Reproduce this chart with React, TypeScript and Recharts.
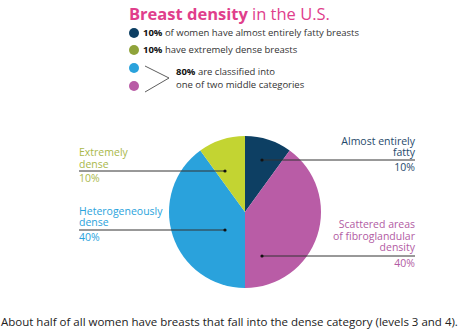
import { PieChart, Pie, Cell } from 'recharts';

const categories = ['Almost entirely fatty', 'Scattered areas of fibroglandular density', 'Heterogeneously dense', 'Extremely dense'];
const shares = [10, 40, 40, 10];
const labelLines = [['Almost entirely', 'fatty'], ['Scattered areas', 'of fibroglandular', 'density'], ['Heterogeneously', 'dense'], ['Extremely', 'dense']];
const legendBold = ['10%', '10%', '80%'];
const legendText = ['of women have almost entirely fatty breasts', 'have extremely dense breasts', 'are classified into'];

const sliceColors = ['#0d3f63', '#b95ca6', '#2aa2dc', '#c3d432'];
const textColors = ['#1f4a6b', '#b25ba3', '#2aa3dc', '#a9b84a'];
const FONT = '"Open Sans", Lato, sans-serif';

const data = categories.map((name, i) => ({ name, value: shares[i] }));

// label anchor geometry, px from pie centre
const anchors = [
  { dot: [17, -52], edge: 170, side: 'right', rows: [-70, -59], pct: -44 },
  { dot: [17, 44], edge: 170, side: 'right', rows: [13, 25, 36], pct: 52 },
  { dot: [-20, 18], edge: -166, side: 'left', rows: [0, 11], pct: 26 },
  { dot: [-20, -41], edge: -166, side: 'left', rows: [-59, -47], pct: -33 },
];

function SliceLabel(props: any) {
  const { cx, cy, index } = props;
  const a = anchors[index];
  const dx = cx + a.dot[0];
  const dy = cy + a.dot[1];
  const ex = cx + a.edge;
  const anchor = a.side === 'right' ? 'end' : 'start';
  return (
    <g>
      <line x1={dx} y1={dy} x2={ex} y2={dy} stroke="#333" strokeWidth={1} />
      <circle cx={dx} cy={dy} r={1.6} fill="#111" />
      {labelLines[index].map((t, j) => (
        <text key={j} x={ex} y={cy + a.rows[j]} textAnchor={anchor} dominantBaseline="middle"
          fontSize={10.5} fontFamily={FONT} fill={textColors[index]}>{t}</text>
      ))}
      <text x={ex} y={cy + a.pct} textAnchor={anchor} dominantBaseline="middle"
        fontSize={10.5} fontFamily={FONT} fill={textColors[index]}>{shares[index]}%</text>
    </g>
  );
}

const legendDots = ['#0d3f63', '#8fa33a', '#2aa2dc', '#b95ca6'];

export default function App() {
  return (
    <div style={{ position: 'absolute', left: 0, top: 0, width: 474, height: 332, background: '#fff', fontFamily: FONT }}>
      <svg width={474} height={100} style={{ position: 'absolute', left: 0, top: 0 }}>
        <text x={129} y={20} fontSize={16.5} fontFamily={FONT} fill="#e03e8c">
          <tspan fontWeight={700}>Breast density</tspan>
          <tspan> in the U.S.</tspan>
        </text>
        {legendDots.map((c, i) => (
          <circle key={i} cx={134} cy={[33, 50, 68, 86][i]} r={5} fill={c} />
        ))}
        {legendText.slice(0, 2).map((t, i) => (
          <text key={i} x={143} y={[33, 50][i]} dominantBaseline="middle" fontSize={9.5} fontFamily={FONT} fill="#333">
            <tspan fontWeight={700} fill="#111">{legendBold[i]}</tspan>
            <tspan> {t}</tspan>
          </text>
        ))}
        <polyline points="145,66 169,78 145,92" fill="none" stroke="#333" strokeWidth={0.8} />
        <text x={176} y={72} dominantBaseline="middle" fontSize={9.5} fontFamily={FONT} fill="#333">
          <tspan fontWeight={700} fill="#111">{legendBold[2]}</tspan>
          <tspan> {legendText[2]}</tspan>
        </text>
        <text x={176} y={85} dominantBaseline="middle" fontSize={9.5} fontFamily={FONT} fill="#333">one of two middle categories</text>
      </svg>
      <div style={{ position: 'absolute', left: 0, top: 0 }}>
        <PieChart width={474} height={332}>
          <Pie data={data} dataKey="value" nameKey="name" cx={240} cy={207} outerRadius={76}
            startAngle={90} endAngle={-270} stroke="none" isAnimationActive={false}
            labelLine={false} label={SliceLabel}>
            {data.map((d, i) => (
              <Cell key={d.name} fill={sliceColors[i]} />
            ))}
          </Pie>
        </PieChart>
      </div>
      <div style={{ position: 'absolute', left: 1, top: 314, fontSize: 11.5, color: '#222', whiteSpace: 'nowrap' }}>
        About half of all women have breasts that fall into the dense category (levels 3 and 4).
      </div>
    </div>
  );
}
